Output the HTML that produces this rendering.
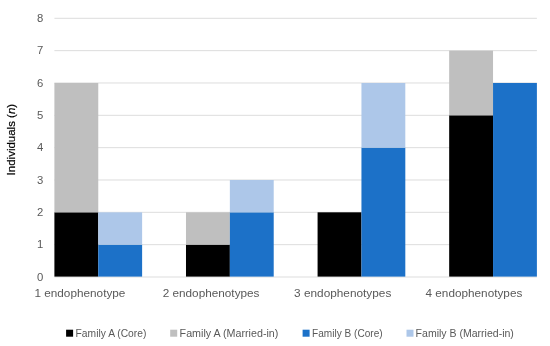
<!DOCTYPE html>
<html><head><meta charset="utf-8"><title>Chart</title>
<style>html,body{margin:0;padding:0;background:#fff;width:550px;height:346px;overflow:hidden}svg{display:block}</style>
</head><body>
<svg width="550" height="346" viewBox="0 0 550 346">
<rect width="550" height="346" fill="#ffffff"/>
<rect x="54.40" y="276.50" width="482.50" height="1" fill="#DDDDDD"/>
<rect x="54.40" y="244.16" width="482.50" height="1" fill="#DDDDDD"/>
<rect x="54.40" y="211.82" width="482.50" height="1" fill="#DDDDDD"/>
<rect x="54.40" y="179.49" width="482.50" height="1" fill="#DDDDDD"/>
<rect x="54.40" y="147.15" width="482.50" height="1" fill="#DDDDDD"/>
<rect x="54.40" y="114.81" width="482.50" height="1" fill="#DDDDDD"/>
<rect x="54.40" y="82.48" width="482.50" height="1" fill="#DDDDDD"/>
<rect x="54.40" y="50.14" width="482.50" height="1" fill="#DDDDDD"/>
<rect x="54.40" y="17.80" width="482.50" height="1" fill="#DDDDDD"/>
<rect x="54.40" y="212.32" width="43.86" height="64.28" fill="#000000"/>
<rect x="54.40" y="82.98" width="43.86" height="129.35" fill="#BFBFBF"/>
<rect x="98.26" y="244.66" width="43.86" height="31.94" fill="#1C71C8"/>
<rect x="98.26" y="212.32" width="43.86" height="32.34" fill="#ADC7E9"/>
<rect x="185.99" y="244.66" width="43.86" height="31.94" fill="#000000"/>
<rect x="185.99" y="212.32" width="43.86" height="32.34" fill="#BFBFBF"/>
<rect x="229.85" y="212.32" width="43.86" height="64.28" fill="#1C71C8"/>
<rect x="229.85" y="179.99" width="43.86" height="32.34" fill="#ADC7E9"/>
<rect x="317.58" y="212.32" width="43.86" height="64.28" fill="#000000"/>
<rect x="361.45" y="147.65" width="43.86" height="128.95" fill="#1C71C8"/>
<rect x="361.45" y="82.98" width="43.86" height="64.67" fill="#ADC7E9"/>
<rect x="449.17" y="115.31" width="43.86" height="161.29" fill="#000000"/>
<rect x="449.17" y="50.64" width="43.86" height="64.67" fill="#BFBFBF"/>
<rect x="493.04" y="82.98" width="43.86" height="193.62" fill="#1C71C8"/>
<text x="43.2" y="280.60" text-anchor="end" font-size="11.3" fill="#595959" style="font-family:'Liberation Sans',sans-serif">0</text>
<text x="43.2" y="248.26" text-anchor="end" font-size="11.3" fill="#595959" style="font-family:'Liberation Sans',sans-serif">1</text>
<text x="43.2" y="215.92" text-anchor="end" font-size="11.3" fill="#595959" style="font-family:'Liberation Sans',sans-serif">2</text>
<text x="43.2" y="183.59" text-anchor="end" font-size="11.3" fill="#595959" style="font-family:'Liberation Sans',sans-serif">3</text>
<text x="43.2" y="151.25" text-anchor="end" font-size="11.3" fill="#595959" style="font-family:'Liberation Sans',sans-serif">4</text>
<text x="43.2" y="118.91" text-anchor="end" font-size="11.3" fill="#595959" style="font-family:'Liberation Sans',sans-serif">5</text>
<text x="43.2" y="86.58" text-anchor="end" font-size="11.3" fill="#595959" style="font-family:'Liberation Sans',sans-serif">6</text>
<text x="43.2" y="54.24" text-anchor="end" font-size="11.3" fill="#595959" style="font-family:'Liberation Sans',sans-serif">7</text>
<text x="43.2" y="21.90" text-anchor="end" font-size="11.3" fill="#595959" style="font-family:'Liberation Sans',sans-serif">8</text>
<text x="34.40" y="297" font-size="11.3" fill="#595959" textLength="91.00" lengthAdjust="spacingAndGlyphs" style="font-family:'Liberation Sans',sans-serif">1 endophenotype</text>
<text x="162.70" y="297" font-size="11.3" fill="#595959" textLength="96.80" lengthAdjust="spacingAndGlyphs" style="font-family:'Liberation Sans',sans-serif">2 endophenotypes</text>
<text x="294.10" y="297" font-size="11.3" fill="#595959" textLength="97.20" lengthAdjust="spacingAndGlyphs" style="font-family:'Liberation Sans',sans-serif">3 endophenotypes</text>
<text x="425.50" y="297" font-size="11.3" fill="#595959" textLength="96.80" lengthAdjust="spacingAndGlyphs" style="font-family:'Liberation Sans',sans-serif">4 endophenotypes</text>
<rect x="66.10" y="329.7" width="7" height="7" fill="#000000"/>
<text x="75.60" y="336.5" font-size="11" fill="#595959" textLength="70.80" lengthAdjust="spacingAndGlyphs" style="font-family:'Liberation Sans',sans-serif">Family A (Core)</text>
<rect x="170.20" y="329.7" width="7" height="7" fill="#BFBFBF"/>
<text x="179.60" y="336.5" font-size="11" fill="#595959" textLength="98.80" lengthAdjust="spacingAndGlyphs" style="font-family:'Liberation Sans',sans-serif">Family A (Married-in)</text>
<rect x="302.60" y="329.7" width="7" height="7" fill="#1C71C8"/>
<text x="312.10" y="336.5" font-size="11" fill="#595959" textLength="70.50" lengthAdjust="spacingAndGlyphs" style="font-family:'Liberation Sans',sans-serif">Family B (Core)</text>
<rect x="406.50" y="329.7" width="7" height="7" fill="#ADC7E9"/>
<text x="415.60" y="336.5" font-size="11" fill="#595959" textLength="98.30" lengthAdjust="spacingAndGlyphs" style="font-family:'Liberation Sans',sans-serif">Family B (Married-in)</text>
<text transform="translate(14.8,175.4) rotate(-90)" x="0" y="0" font-size="11.5" fill="#000000" stroke="#000000" stroke-width="0.2" textLength="71.6" lengthAdjust="spacingAndGlyphs" style="font-family:'Liberation Sans',sans-serif">Individuals (<tspan font-style="italic">n</tspan>)</text>
</svg>
</body></html>
